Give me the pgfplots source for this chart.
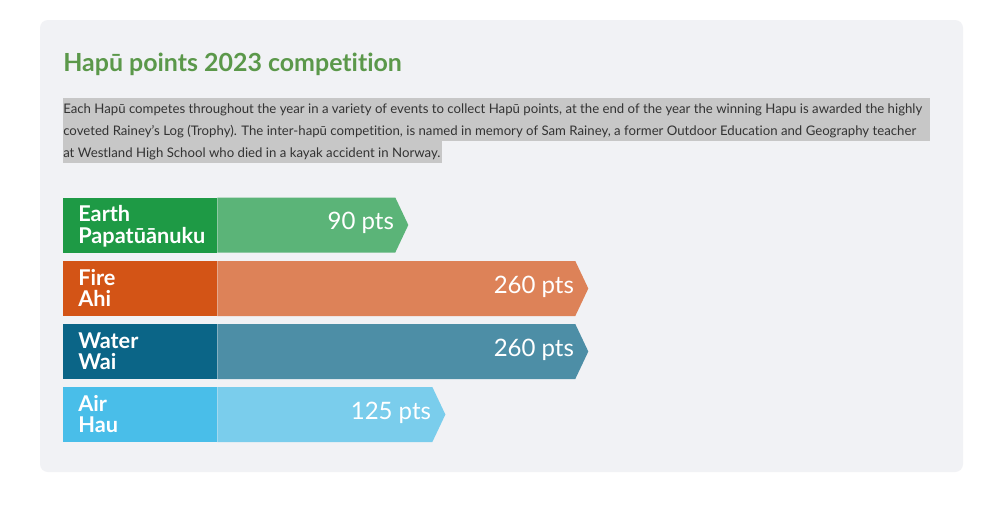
\documentclass[border=0pt]{standalone}
\usepackage{pgfplots}
\pgfplotsset{compat=1.18}
\usepackage{fontspec}
\setmainfont{Lato}[Ligatures=NoCommon]
\definecolor{cardbg}{RGB}{241,242,245}
\definecolor{hl}{RGB}{199,199,199}
\definecolor{ptext}{RGB}{51,51,51}
\definecolor{tgreen}{RGB}{91,152,74}
\definecolor{earthD}{RGB}{30,154,69}
\definecolor{earthL}{RGB}{91,180,120}
\definecolor{fireD}{RGB}{211,84,22}
\definecolor{fireL}{RGB}{221,130,88}
\definecolor{waterD}{RGB}{11,101,135}
\definecolor{waterL}{RGB}{77,142,166}
\definecolor{airD}{RGB}{73,190,233}
\definecolor{airL}{RGB}{122,205,236}
\begin{document}
\begin{tikzpicture}[x=0.75pt,y=-0.75pt]
\useasboundingbox (0,0) rectangle (1000,504);
\fill[white] (0,0) rectangle (1000,504);
\fill[cardbg, rounded corners=6pt] (40,20) rectangle (963,472);
\node[anchor=base west, inner sep=0, text=tgreen, font=\fontsize{18.7}{24}\selectfont\bfseries] at (63,71.7) {Hapū points 2023 competition};
\fill[hl] (63,97.5) rectangle (929.5,119.3);
\fill[hl] (63,119.3) rectangle (929.5,141);
\fill[hl] (63,141) rectangle (442,162.5);
\begin{scope}[every node/.style={anchor=base west, inner sep=0, text=ptext, font=\fontsize{9.9}{16}\selectfont}]
\node at (63,113.5) {Each Hapū competes throughout the year in a variety of events to collect Hapū points, at the end of the year the winning Hapu is awarded the highly};
\node at (63,135.5) {coveted Rainey’s Log (Trophy). The inter-hapū competition, is named in memory of Sam Rainey, a former Outdoor Education and Geography teacher};
\node at (63,157.5) {at Westland High School who died in a kayak accident in Norway.};
\end{scope}
\begin{axis}[at={(0,0)}, anchor=north west, scale only axis, width=750pt, height=378pt,
  hide axis, clip=false, xmin=-283.34, xmax=661.13, ymin=-504, ymax=0]
% label boxes
\addplot[fill=earthD, draw=none] coordinates {(-224.3,-197.5) (-78.1,-197.5) (-78.1,-252.5) (-224.3,-252.5)} -- cycle;
\addplot[fill=fireD, draw=none] coordinates {(-224.3,-261) (-78.1,-261) (-78.1,-316) (-224.3,-316)} -- cycle;
\addplot[fill=waterD, draw=none] coordinates {(-224.3,-324) (-78.1,-324) (-78.1,-379) (-224.3,-379)} -- cycle;
\addplot[fill=airD, draw=none] coordinates {(-224.3,-387) (-78.1,-387) (-78.1,-442) (-224.3,-442)} -- cycle;
% value bars (arrow-shaped)
\addplot[fill=earthL, draw=none] coordinates {(-78.1,-197.5) (90,-197.5) (102.3,-225) (90,-252.5) (-78.1,-252.5)} -- cycle;
\addplot[fill=fireL, draw=none] coordinates {(-78.1,-261) (260,-261) (272.3,-288.5) (260,-316) (-78.1,-316)} -- cycle;
\addplot[fill=waterL, draw=none] coordinates {(-78.1,-324) (260,-324) (272.3,-351.5) (260,-379) (-78.1,-379)} -- cycle;
\addplot[fill=airL, draw=none] coordinates {(-78.1,-387) (125,-387) (137.3,-414.5) (125,-442) (-78.1,-442)} -- cycle;
\begin{scope}[every node/.style={anchor=base east, inner sep=0, text=white, font=\fontsize{18}{20}\selectfont}]
\node at (axis cs:89,-229.5) {90 pts};
\node at (axis cs:259,-293) {260 pts};
\node at (axis cs:259,-356) {260 pts};
\node at (axis cs:124,-419) {125 pts};
\end{scope}
\end{axis}
\begin{scope}[every node/.style={anchor=base west, inner sep=0, text=white, font=\fontsize{16.3}{16}\selectfont\bfseries}]
\node at (78,221.7) {Earth};
\node at (78,243.3) {Papatūānuku};
\node at (78,285) {Fire};
\node at (78,306.6) {Ahi};
\node at (78,348) {Water};
\node at (78,369.6) {Wai};
\node at (78,411) {Air};
\node at (78,432.6) {Hau};
\end{scope}
\end{tikzpicture}
\end{document}
